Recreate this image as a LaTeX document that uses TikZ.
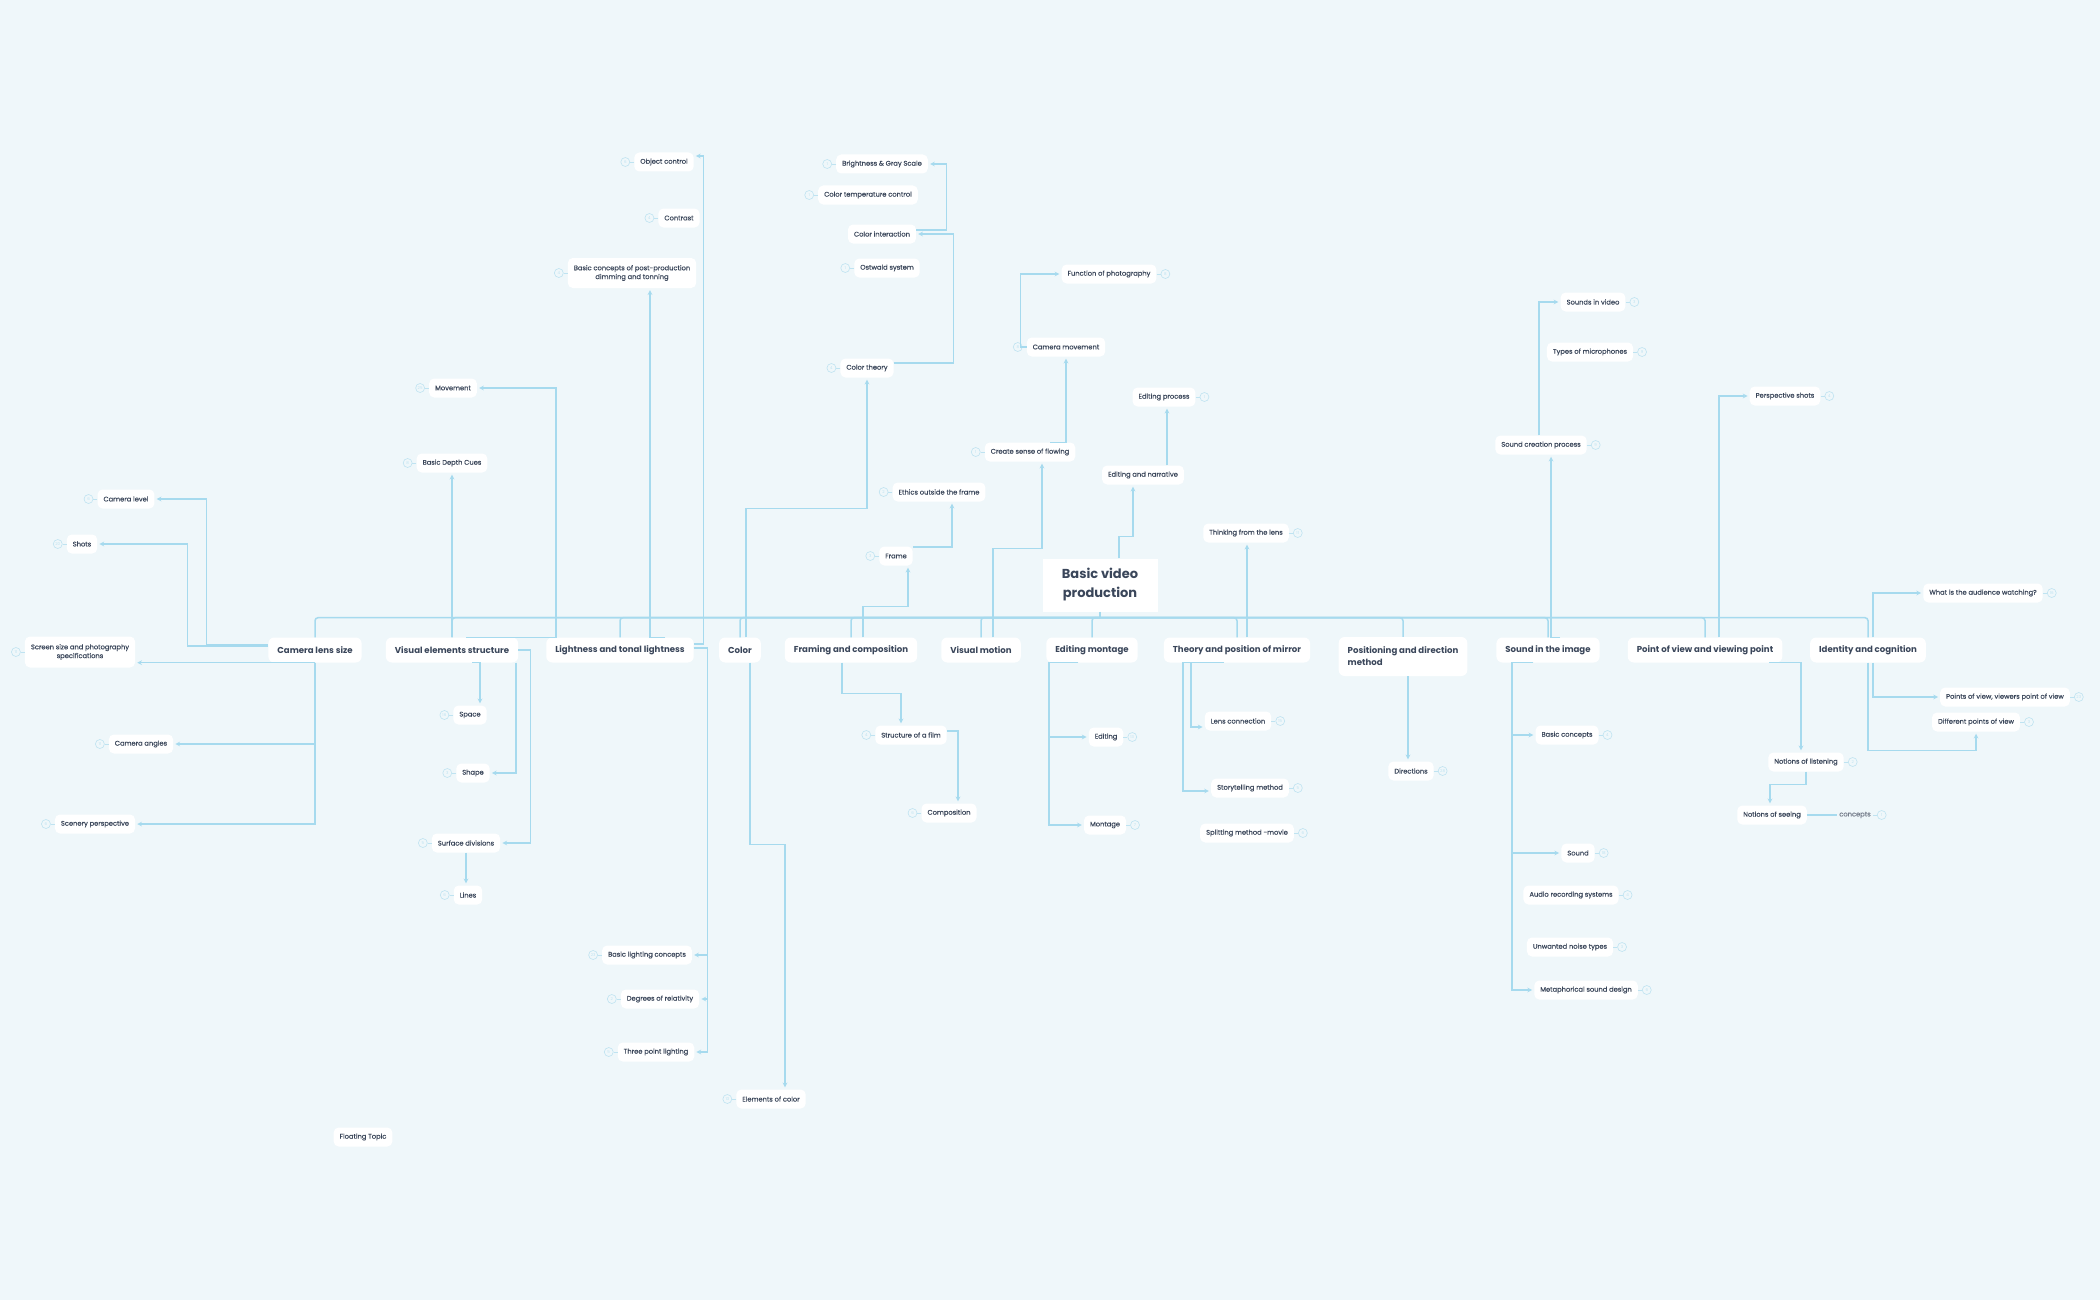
\documentclass[tikz,border=0pt]{standalone}
\usepackage{fontspec}
\setmainfont{Poppins}
\newfontfamily\subfam[FakeBold=0.35]{Poppins}
\definecolor{bgc}{HTML}{EFF7FA}
\definecolor{linec}{HTML}{A6DAEE}
\definecolor{txtc}{HTML}{3A465A}
\definecolor{badgec}{HTML}{BFE3F1}
\begin{document}
\begin{tikzpicture}[x=1pt, y=-1pt,
    box/.style={rectangle, rounded corners=5pt, fill=white, text=txtc, inner xsep=6pt, inner ysep=2pt, minimum height=19pt, font=\subfam\fontsize{6.7}{8.8}\selectfont},
    mainbox/.style={rectangle, rounded corners=6pt, fill=white, text=txtc, inner xsep=9pt, minimum height=25pt, font=\bfseries\fontsize{8.6}{12}\selectfont},
    rootbox/.style={rectangle, fill=white, text=txtc, minimum width=115pt, minimum height=53pt, align=center, font=\bfseries\fontsize{13}{19}\selectfont},
    cnt/.style={circle, draw=badgec, line width=0.6pt, inner sep=0pt, minimum size=9pt, text=badgec, font=\fontsize{4}{4}\selectfont},
    lb/.style={pin={[cnt]left:#1}},
    rb/.style={pin={[cnt]right:#1}},
    every pin edge/.style={draw=badgec, line width=0.6pt},
    pin distance=4pt,
    arrow/.style={->, >=stealth, draw=linec, line width=1.1pt, shorten >=2pt},
    link/.style={draw=linec, line width=1.1pt},
    bus/.style={draw=linec, line width=1.5pt, rounded corners=3pt}
]
\useasboundingbox (0,0) rectangle (2100,1300);
\fill[bgc] (0,0) rectangle (2100,1300);

% central topic
\node[rootbox] (root) at (1100, 585) {Basic video\\production};

% main topics
\node[mainbox] (cls) at (315, 650) {Camera lens size};
\node[mainbox] (ves) at (452, 650) {Visual elements structure};
\node[mainbox] (ltl) at (620, 650) {Lightness and tonal lightness};
\node[mainbox] (col) at (740, 650) {Color};
\node[mainbox] (frc) at (851, 650) {Framing and composition};
\node[mainbox] (vm) at (981, 650) {Visual motion};
\node[mainbox] (edm) at (1092, 650) {Editing montage};
\node[mainbox] (tpm) at (1237, 650) {Theory and position of mirror};
\node[mainbox, minimum height=39pt, align=left] (pdm) at (1403, 656.5) {Positioning and direction\\method};
\node[mainbox] (sii) at (1548, 650) {Sound in the image};
\node[mainbox] (pov) at (1705, 650) {Point of view and viewing point};
\node[mainbox] (idc) at (1868, 650) {Identity and cognition};

% bus from the central topic
\draw[link] (root.south) -- ++(0,6) coordinate (hub);
\foreach \m in {cls,ves,ltl,col,frc,vm,edm,tpm,pdm,sii,pov,idc}
    \draw[bus] (hub) -| (\m.north);

% Camera lens size
\node[box, lb=6] (camlvl) at (126, 499) {Camera level};
\node[box, lb=20] (shots) at (82, 544) {Shots};
\node[box, lb=11, align=center, minimum height=31pt] (scrsz) at (80, 652) {Screen size and photography\\specifications};
\node[box, lb=11] (camang) at (141, 744) {Camera angles};
\node[box, lb=6] (scenery) at (95, 824) {Scenery perspective};
\draw[arrow] ([yshift=5pt]cls.west) -- ++(-62,0) |- (camlvl.east);
\draw[arrow] ([yshift=4pt]cls.west) -- ++(-81,0) |- (shots.east);
\draw[arrow] (cls.south) -- (cls.south -| scrsz.east);
\draw[arrow] (cls.south) |- (camang.east);
\draw[arrow] (cls.south) |- (scenery.east);

% Visual elements structure
\node[box, lb=8] (depth) at (452, 463) {Basic Depth Cues};
\node[box, lb=25] (move) at (453, 388) {Movement};
\node[box, lb=16] (space) at (470, 715) {Space};
\node[box, lb=3] (shape) at (473, 773) {Shape};
\node[box, lb=5] (surf) at (466, 843) {Surface divisions};
\node[box, lb=6] (lines) at (468, 895) {Lines};
\draw[arrow] (ves.north) -- (ves.north |- depth.south);
\draw[arrow] ([xshift=14pt]ves.north) -- ++(90,0) |- (move.east);
\draw[arrow] ([xshift=20pt]ves.south) -| ([xshift=10pt]space.north);
\draw[arrow] ([xshift=64pt]ves.south) |- (shape.east);
\draw[arrow] (ves.east) -- ++(12,0) |- (surf.east);
\draw[arrow] (surf.south) -- (surf.south |- lines.north);

% Lightness and tonal lightness
\node[box, lb=4, align=center, minimum height=30pt] (post) at (632, 273) {Basic concepts of post-production\\dimming and tonning};
\node[box, lb=4] (contrast) at (679, 218) {Contrast};
\node[box, lb=6] (objc) at (664, 162) {Object control};
\node[box, lb=23] (blc) at (647, 955) {Basic lighting concepts};
\node[box, lb=2] (deg) at (660, 999) {Degrees of relativity};
\node[box, lb=5] (tpl) at (656, 1052) {Three point lighting};
\draw[arrow] ([xshift=45pt]ltl.north) -| ([xshift=18pt]post.south);
\draw[arrow] ([yshift=6pt]ltl.east) -- ++(10,0) |- ([yshift=6pt]objc.east);
\draw[arrow] ([yshift=2pt]ltl.east) -- ++(14,0) |- (blc.east);
\draw[arrow] ([yshift=2pt]ltl.east) -- ++(14,0) |- (deg.east);
\draw[arrow] ([yshift=2pt]ltl.east) -- ++(14,0) |- (tpl.east);

% Color
\node[box, lb=4] (ctheory) at (867, 368) {Color theory};
\node[box] (cint) at (882, 234) {Color interaction};
\node[box, lb=1] (bright) at (882, 164) {Brightness \& Gray Scale};
\node[box, lb=1] (ctemp) at (868, 195) {Color temperature control};
\node[box, lb=1] (ostwald) at (887, 268) {Ostwald system};
\node[box, lb=13] (elcol) at (771, 1099) {Elements of color};
\draw[arrow] ([xshift=6pt]col.north) -- ++(0,-129) -| (ctheory.south);
\draw[arrow] ([yshift=5pt]ctheory.east) -- ++(60,0) |- (cint.east);
\draw[arrow] ([yshift=4pt]cint.east) -- ++(30,0) |- (bright.east);
\draw[arrow] ([xshift=10pt]col.south) -- ++(0,182) -| ([xshift=14pt]elcol.north);

% Framing and composition
\node[box, lb=3] (frame) at (896, 556) {Frame};
\node[box, lb=2] (ethics) at (939, 492) {Ethics outside the frame};
\node[box, lb=4] (struct) at (911, 735) {Structure of a film};
\node[box, lb=6] (compo) at (949, 813) {Composition};
\draw[arrow] ([xshift=12pt]frc.north) -- ++(0,-31) -| ([xshift=12pt]frame.south);
\draw[arrow] ([yshift=9pt]frame.east) -| ([xshift=13pt]ethics.south);
\draw[arrow] ([xshift=-9pt]frc.south) -- ++(0,31) -| ([xshift=-10pt]struct.north);
\draw[arrow] ([yshift=4pt]struct.east) -| ([xshift=9pt]compo.north);

% Visual motion
\node[box, lb=1] (flow) at (1030, 452) {Create sense of flowing};
\node[box, lb=8] (cammov) at (1066, 347) {Camera movement};
\node[box, rb=8] (funcph) at (1109, 274) {Function of photography};
\draw[arrow] ([xshift=12pt]vm.north) -- ++(0,-89) -| ([xshift=12pt]flow.south);
\draw[arrow] ([xshift=20pt]flow.north) -| (cammov.south);
\draw[arrow] (cammov.west) -- ++(-6,0) |- (funcph.west);

% Editing montage
\node[box] (ednar) at (1143, 475) {Editing and narrative};
\node[box, rb=1] (edproc) at (1164, 397) {Editing process};
\node[box, rb=13] (edit) at (1106, 737) {Editing};
\node[box, rb=7] (mont) at (1105, 825) {Montage};
\draw[arrow] ([xshift=19pt]root.north) -- ++(0,-22) -| ([xshift=-10pt]ednar.south);
\draw[arrow] ([xshift=24pt]ednar.north) -- ([xshift=24pt]ednar.north |- edproc.south);
\draw[arrow] ([xshift=-14pt]edm.south) -- ++(-29,0) |- (edit.west);
\draw[arrow] ([xshift=-14pt]edm.south) -- ++(-29,0) |- (mont.west);

% Theory and position of mirror
\node[box, rb=11] (think) at (1246, 533) {Thinking from the lens};
\node[box, rb=15] (lensc) at (1238, 721) {Lens connection};
\node[box, rb=5] (story) at (1250, 788) {Storytelling method};
\node[box, rb=6] (split) at (1247, 833) {Splitting method -movie};
\draw[arrow] ([xshift=10pt]tpm.north) -- ([xshift=10pt]tpm.north |- think.south);
\draw[arrow] ([xshift=-13pt]tpm.south) -- ++(-33,0) |- ([yshift=-6pt]lensc.west);
\draw[arrow] ([xshift=-23pt]tpm.south) -- ++(-31,0) |- ([yshift=-3pt]story.west);

% Positioning and direction method
\node[box, rb=28] (dirs) at (1411, 771) {Directions};
\draw[arrow] ([xshift=5pt]pdm.south) -- ([xshift=5pt]pdm.south |- dirs.north);

% Sound in the image
\node[box, rb=9] (sndcr) at (1541, 445) {Sound creation process};
\node[box, rb=3] (sndvid) at (1593, 302) {Sounds in video};
\node[box, rb=9] (typmic) at (1590, 352) {Types of microphones};
\node[box, rb=4] (bconc) at (1567, 735) {Basic concepts};
\node[box, rb=18] (sound) at (1578, 853) {Sound};
\node[box, rb=4] (audrec) at (1571, 895) {Audio recording systems};
\node[box, rb=3] (noise) at (1570, 947) {Unwanted noise types};
\node[box, rb=6] (metaph) at (1586, 990) {Metaphorical sound design};
\draw[arrow] ([xshift=12pt]sii.north) -| ([xshift=10pt]sndcr.south);
\draw[arrow] ([xshift=-2pt]sndcr.north) |- (sndvid.west);
\draw[arrow] ([xshift=-15pt]sii.south) -- ++(-21,0) |- (bconc.west);
\draw[arrow] ([xshift=-15pt]sii.south) -- ++(-21,0) |- (sound.west);
\draw[arrow] ([xshift=-15pt]sii.south) -- ++(-21,0) |- (metaph.west);

% Point of view and viewing point
\node[box, rb=4] (persp) at (1785, 396) {Perspective shots};
\node[box, rb=2] (nlist) at (1806, 762) {Notions of listening};
\node[box] (nsee) at (1772, 815) {Notions of seeing};
\node[text=txtc!70, font=\subfam\fontsize{6.7}{8.8}\selectfont, inner sep=2pt, rb=1] (concepts) at (1855, 815) {concepts};
\draw[arrow] ([xshift=14pt]pov.north) |- (persp.west);
\draw[arrow] ([xshift=64pt]pov.south) -| ([xshift=-5pt]nlist.north);
\draw[arrow] (nlist.south) -- ++(0,13) -| ([xshift=-2pt]nsee.north);
\draw[link] (nsee.east) -- (concepts.west);

% Identity and cognition
\node[box, rb=16] (audw) at (1983, 593) {What is the audience watching?};
\node[box, rb=23] (povv) at (2005, 697) {Points of view, viewers point of view};
\node[box, rb=3] (dpov) at (1976, 722) {Different points of view};
\draw[arrow] ([xshift=5pt]idc.north) |- (audw.west);
\draw[arrow] ([xshift=5pt]idc.south) |- (povv.west);
\draw[arrow] (idc.south) -- ++(0,88) -| (dpov.south);

% floating topic
\node[box] (float) at (363, 1137) {Floating Topic};

\end{tikzpicture}
\end{document}
